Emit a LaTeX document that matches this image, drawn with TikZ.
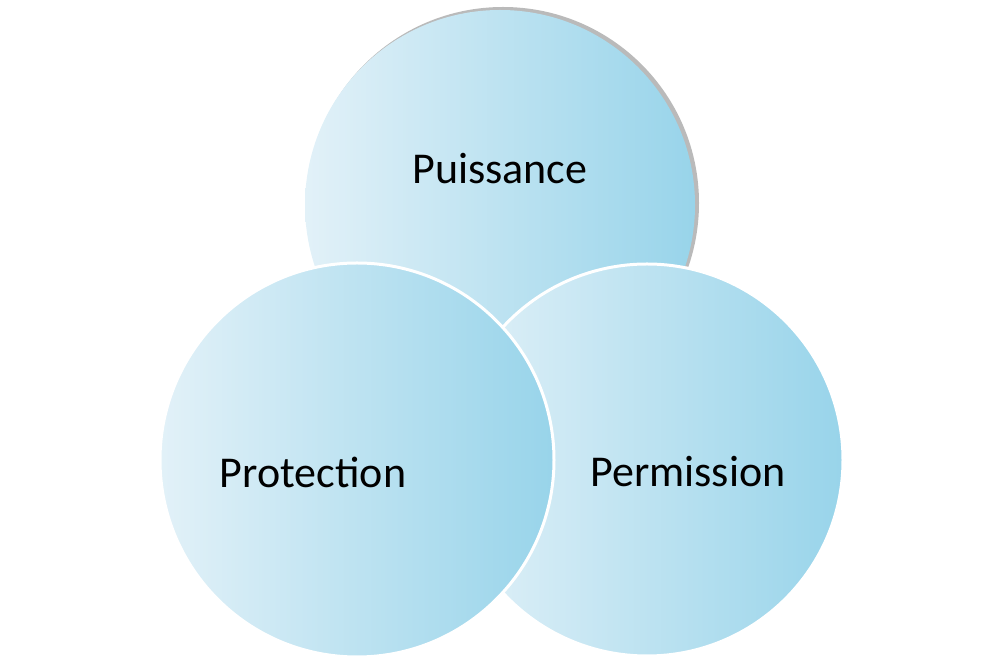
\documentclass[tikz,border=0pt]{standalone}
\usepackage{fontspec}
\setmainfont{Carlito}
\begin{document}
\begin{tikzpicture}[x=1pt,y=1pt,
  bub/.style={circle,minimum size=#1,inner sep=0pt,left color=lc,right color=rc,draw=white,line width=3pt},
  lab/.style={font=\fontsize{44}{50}\selectfont}]
\definecolor{lc}{RGB}{226,241,248}
\definecolor{rc}{RGB}{152,212,234}
\useasboundingbox (0,0) rectangle (1002,669);
\fill[black!45,opacity=0.6] (503,466) circle (196);
\node[bub=390pt,draw=none] (top) at (500,464) {};
\node[bub=392pt] (right) at (647,209) {};
\node[bub=394pt] (left) at (357,209) {};
\node[lab] (t1) at (500,500) {Puissance};
\node[lab] (t2) at (313,197) {Protection};
\node[lab] (t3) at (688,197) {Permission};
\end{tikzpicture}
\end{document}
